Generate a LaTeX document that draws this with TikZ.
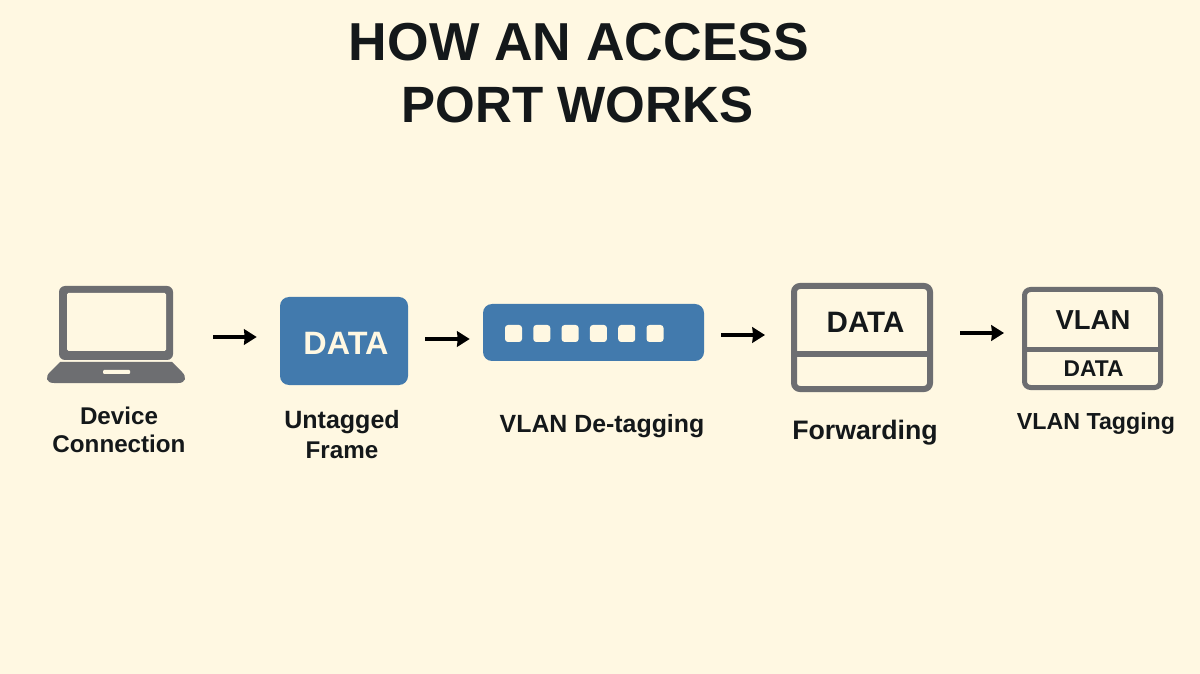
\documentclass[tikz,border=0pt]{standalone}
\usepackage{fontspec}
\setmainfont{Liberation Sans}
\usetikzlibrary{arrows.meta}
\definecolor{paper}{RGB}{255, 248, 226}
\definecolor{slate}{RGB}{109, 110, 113}
\definecolor{steel}{RGB}{66, 122, 173}
\definecolor{ink}{RGB}{20, 24, 26}
\def\px{0.025cm}
\tikzset{
  headline/.style={text=ink, inner sep=0, anchor=base, font=\fontsize{38}{38}\selectfont\bfseries},
  caption/.style={text=ink, inner sep=0, anchor=base, font=\fontsize{17.2}{17.2}\selectfont\bfseries},
  word/.style={text=ink, inner sep=0, anchor=base, font=\bfseries},
  bluebox/.style={fill=steel, rounded corners=9*\px, inner sep=0},
  framebox/.style={draw=slate, rounded corners=6*\px, inner sep=0},
  portbox/.style={fill=paper, rounded corners=3*\px, inner sep=0, minimum size=17*\px},
  flowarrow/.style={->, >={Stealth[length=9pt, width=11pt, inset=0.5pt]}, line width=3pt, black}
}

\begin{document}
\begin{tikzpicture}[x=\px, y=-\px]
  \fill[paper] (0, 0) rectangle (1200, 674);
  \useasboundingbox (0, 0) rectangle (1200, 674);

  \node[headline] (titleone) at (579, 60.5) {HOW AN ACCESS};
  \node[headline, font=\fontsize{36.3}{36.3}\selectfont\bfseries] (titletwo) at (577.5, 123) {PORT WORKS};

  % laptop
  \node[fill=slate, rounded corners=6*\px, inner sep=0, minimum width=114*\px, minimum height=74*\px] (laptoplid) at (116, 323) {};
  \node[fill=paper, rounded corners=1.5*\px, inner sep=0, minimum width=99*\px, minimum height=58*\px] (screen) at (116.5, 322) {};
  \fill[slate] (60, 362) -- (172, 362) -- (182, 372) .. controls (187, 377) and (186, 383) .. (178, 383) -- (54, 383) .. controls (46, 383) and (45, 377) .. (50, 372) -- cycle;
  \fill[paper, rounded corners=1*\px] (103, 370) rectangle (130, 374);
  \coordinate (laptopside) at (184, 372);
  \node[caption] (deviceone) at (119, 424) {Device};
  \node[caption] (devicetwo) at (119, 452) {Connection};

  % untagged frame
  \node[bluebox, minimum width=128*\px, minimum height=88*\px] (frame) at (344, 341) {};
  \node[word, text=paper, font=\fontsize{23}{23}\selectfont\bfseries] (framedata) at (346, 355) {DATA};
  \node[caption, font=\fontsize{17.8}{17.8}\selectfont\bfseries] (untaggedone) at (342, 428) {Untagged};
  \node[caption] (untaggedtwo) at (342, 458) {Frame};

  % de-tagging switch
  \node[bluebox, minimum width=221*\px, minimum height=57*\px] (switch) at (593.5, 332.5) {};
  \foreach \n/\x in {1/513.5, 2/541.8, 3/570.1, 4/598.4, 5/626.7, 6/655} {
    \node[portbox] (port\n) at (\x, 333.5) {};
  }
  \node[caption, font=\fontsize{17.7}{17.7}\selectfont\bfseries] (detag) at (602, 432) {VLAN De-tagging};

  % forwarding
  \node[framebox, line width=6*\px, minimum width=136*\px, minimum height=103*\px] (forward) at (862, 337.5) {};
  \draw[slate, line width=5.5*\px] (forward.west |- 0, 354) -- (forward.east |- 0, 354);
  \node[word, font=\fontsize{21}{21}\selectfont\bfseries] (forwarddata) at (865.5, 333) {DATA};
  \node[caption, font=\fontsize{19}{19}\selectfont\bfseries] (forwardtext) at (865, 439) {Forwarding};

  % tagging
  \node[framebox, line width=5*\px, minimum width=136*\px, minimum height=98*\px] (tagged) at (1092.5, 338.5) {};
  \draw[slate, line width=4.5*\px] (tagged.west |- 0, 349.5) -- (tagged.east |- 0, 349.5);
  \node[word, font=\fontsize{19.5}{19.5}\selectfont\bfseries] (taggedvlan) at (1093, 330) {VLAN};
  \node[word, font=\fontsize{16.2}{16.2}\selectfont\bfseries] (taggeddata) at (1093.5, 377) {DATA};
  \node[caption, font=\fontsize{16.5}{16.5}\selectfont\bfseries] (tagtext) at (1096, 429) {VLAN Tagging};

  \draw[flowarrow, shorten <=29*\px, shorten >=23*\px] (laptopside |- 0, 337) -- (frame.west |- 0, 337);
  \draw[flowarrow, shorten <=17*\px, shorten >=13*\px] (frame.east |- 0, 339) -- (switch.west |- 0, 339);
  \draw[flowarrow, shorten <=17*\px, shorten >=26*\px] (switch.east |- 0, 335) -- (forward.west |- 0, 335);
  \draw[flowarrow, shorten <=27*\px, shorten >=18*\px] (forward.east |- 0, 333) -- (tagged.west |- 0, 333);
\end{tikzpicture}
\end{document}
